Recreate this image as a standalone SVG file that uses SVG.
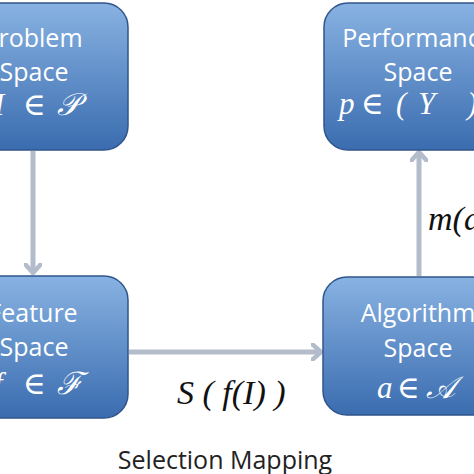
<svg xmlns="http://www.w3.org/2000/svg" width="474" height="474" viewBox="0 0 474 474">
<defs>
<linearGradient id="g" x1="0" y1="0" x2="0" y2="1">
<stop offset="0" stop-color="#88b2e2"/>
<stop offset="1" stop-color="#3a6caf"/>
</linearGradient>
<marker id="ah" viewBox="0 0 12 18" refX="10" refY="9" markerWidth="12" markerHeight="18" markerUnits="userSpaceOnUse" orient="auto">
<path d="M1,1 L10,9 L1,17" fill="none" stroke="#b3bccb" stroke-width="4.5" stroke-linecap="round" stroke-linejoin="round"/>
</marker>
<style>
.box{fill:url(#g);stroke:#30568c;stroke-width:1.5}
.t{font-family:"Open Sans","Liberation Sans",sans-serif;font-size:25px;fill:#ffffff;text-anchor:middle}
.m{font-family:"Liberation Serif","DejaVu Serif",serif;font-style:italic;font-size:31px;fill:#ffffff}
.lab{font-family:"Liberation Serif","DejaVu Serif",serif;font-style:italic;font-size:34px;fill:#111111}
.cap{font-family:"Open Sans","Liberation Sans",sans-serif;font-size:25px;fill:#222222;text-anchor:middle}
.c{stroke:#b3bccb;stroke-width:5;fill:none;marker-end:url(#ah)}
</style>
</defs>
<g id="connectors">
<line class="c" x1="33" y1="151" x2="33" y2="273"/>
<line class="c" x1="129" y1="352" x2="321" y2="352"/>
<line class="c" x1="419" y1="276" x2="419" y2="152"/>
</g>
<g id="problem-space">
<rect class="box" x="-62" y="3" width="190" height="147" rx="24"/>
<text class="t" x="33" y="47">Problem</text>
<text class="t" x="34" y="81">Space</text>
<text class="m" y="115"><tspan x="-6">I</tspan><tspan x="23">∈</tspan><tspan x="57">𝒫</tspan></text>
</g>
<g id="performance-space">
<rect class="box" x="324" y="3" width="190" height="147" rx="24"/>
<text class="t" x="418" y="47">Performance</text>
<text class="t" x="418" y="81">Space</text>
<text class="m" y="114"><tspan x="339">p</tspan><tspan x="361">∈</tspan><tspan x="396">(</tspan><tspan x="418">Υ</tspan><tspan x="467">)</tspan></text>
</g>
<g id="feature-space">
<rect class="box" x="-62" y="276" width="190" height="142" rx="24"/>
<text class="t" x="33" y="322">Feature</text>
<text class="t" x="34" y="356">Space</text>
<text class="m" y="394"><tspan x="-6">f</tspan><tspan x="23">∈</tspan><tspan x="57">ℱ</tspan></text>
</g>
<g id="algorithm-space">
<rect class="box" x="323" y="277" width="190" height="138" rx="24"/>
<text class="t" x="418" y="322">Algorithm</text>
<text class="t" x="418" y="357">Space</text>
<text class="m" y="398"><tspan x="377">a</tspan><tspan x="397">∈</tspan><tspan x="426">𝒜</tspan></text>
</g>
<g id="labels">
<text class="lab" x="177" y="404">S ( f(I) )</text>
<text class="lab" x="428" y="230">m(a)</text>
<text class="cap" x="225" y="469">Selection Mapping</text>
</g>
</svg>
